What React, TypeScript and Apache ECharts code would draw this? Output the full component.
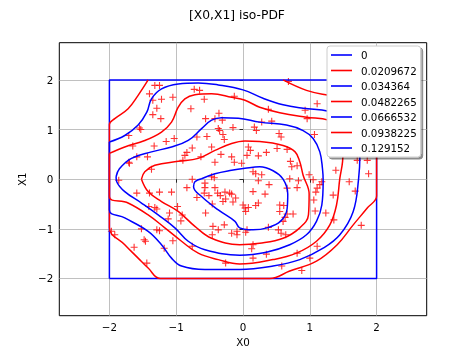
import React, { useEffect, useRef } from "react";
import * as echarts from "echarts";

const levelNames = ["0", "0.0209672", "0.034364", "0.0482265", "0.0666532", "0.0938225", "0.129152"];
const levelColors = ["#0000ff", "#ff0000", "#0000ff", "#ff0000", "#0000ff", "#ff0000", "#0000ff"];

const level0 = [[-2, -2], [-2, 2], [2, 2], [2, -2], [-2, -2]];
const level1 = [
  [0.6, 2], [0.95, 1.79], [1.28, 1.69], [1.6, 1.62], [1.85, 1.57], [2, 1.5], [2, 0.6], [2, -0.34],
  [1.86, -0.58], [1.65, -0.92], [1.41, -1.32], [1.1, -1.65], [0.7, -1.85], [0.4, -2], [-0.4, -2],
  [-1.24, -2], [-1.42, -1.79], [-1.57, -1.59], [-1.77, -1.32], [-2, -0.98], [-2, 0], [-2, 1.1],
  [-1.92, 1.22], [-1.72, 1.42], [-1.57, 1.69], [-1.42, 2],
];
const level2 = [
  [-2, 0.75], [-1.77, 0.88], [-1.57, 1.09], [-1.44, 1.35], [-1.37, 1.62], [-1.22, 1.82], [-0.97, 1.92],
  [-0.67, 1.94], [-0.37, 1.9], [0.0, 1.8], [0.3, 1.63], [0.6, 1.5], [0.9, 1.43], [1.28, 1.37],
  [1.55, 1.25], [1.7, 0.95], [1.75, 0.5], [1.73, 0], [1.65, -0.65], [1.45, -1.12], [1.2, -1.39],
  [0.85, -1.62], [0.45, -1.75], [-0.05, -1.82], [-0.57, -1.82], [-0.92, -1.75], [-1.07, -1.59],
  [-1.22, -1.32], [-1.42, -1.05], [-1.77, -0.78], [-2, -0.62], [-2, 0.75],
];
const level3 = [
  [-2, 0.52], [-1.77, 0.65], [-1.47, 0.78], [-1.22, 0.95], [-1.07, 1.15], [-0.97, 1.45], [-0.87, 1.62],
  [-0.72, 1.7], [-0.47, 1.72], [-0.17, 1.65], [0.03, 1.59], [0.25, 1.45], [0.55, 1.34], [0.95, 1.25],
  [1.28, 1.19], [1.42, 1.05], [1.5, 0.7], [1.49, 0.35], [1.45, 0.02], [1.4, -0.52], [1.3, -0.92],
  [1.1, -1.25], [0.8, -1.49], [0.45, -1.62], [-0.05, -1.71], [-0.37, -1.62], [-0.67, -1.49],
  [-0.92, -1.25], [-1.17, -0.98], [-1.42, -0.72], [-1.72, -0.48], [-2, -0.35], [-2, 0.52],
];
const level4 = [
  [-1.9, 0.05], [-1.85, 0.21], [-1.67, 0.42], [-1.37, 0.55], [-1.07, 0.65], [-0.82, 0.78], [-0.62, 1.02],
  [-0.47, 1.19], [-0.32, 1.24], [-0.07, 1.23], [0.25, 1.15], [0.65, 1.09], [0.9, 0.98], [1.05, 0.82],
  [1.15, 0.55], [1.19, 0.21], [1.2, -0.04], [1.18, -0.52], [1.1, -0.85], [0.95, -1.12], [0.7, -1.32],
  [0.35, -1.47], [-0.05, -1.53], [-0.57, -1.42], [-0.82, -1.25], [-1.02, -0.98], [-1.27, -0.72],
  [-1.52, -0.48], [-1.77, -0.25], [-1.89, -0.05], [-1.9, 0.05],
];
const level5 = [
  [-1.52, 0], [-1.47, 0.15], [-1.32, 0.28], [-0.97, 0.36], [-0.67, 0.42], [-0.42, 0.58], [-0.17, 0.72],
  [0.03, 0.77], [0.25, 0.76], [0.6, 0.68], [0.78, 0.55], [0.85, 0.35], [0.9, 0.08], [0.99, -0.3],
  [0.98, -0.72], [0.85, -0.98], [0.6, -1.19], [0.25, -1.29], [-0.05, -1.32], [-0.47, -1.19],
  [-0.72, -0.95], [-0.97, -0.65], [-1.22, -0.45], [-1.42, -0.25], [-1.52, 0],
];
const level6 = [
  [-0.62, 0.01], [-0.42, 0.11], [-0.17, 0.18], [0.03, 0.22], [0.25, 0.25], [0.45, 0.17], [0.6, 0.0],
  [0.67, -0.3], [0.66, -0.6], [0.56, -0.85], [0.36, -0.98], [0.15, -1.02], [-0.05, -0.98],
  [-0.12, -0.85], [-0.37, -0.62], [-0.62, -0.35], [-0.74, -0.15], [-0.72, -0.05], [-0.62, 0.01],
];
const levelData = [level0, level1, level2, level3, level4, level5, level6];

const cloud = [
  [-1.32, 1.89], [-1.25, 1.89], [-1.4, 1.72], [-1.35, 1.59], [-1.22, 1.61], [-1.05, 1.65], [-1.29, 1.43],
  [-1.35, 1.3], [-1.23, 1.22], [-0.73, 1.81], [-0.65, 1.79], [-0.58, 1.61], [-0.78, 1.42], [-0.56, 1.22],
  [-0.36, 1.33], [-0.42, 1.22], [-0.31, 1.19], [-0.15, 1.04], [-0.37, 1.02], [-0.35, 0.98], [-0.3, 0.9],
  [-0.28, 0.8], [-0.13, 1.67], [-1.55, 1.03], [-1.53, 1.0], [-1.71, 0.88], [-1.65, 0.67], [-1.33, 0.67],
  [-1.15, 0.76], [-1.03, 0.82], [-0.69, 0.85], [-0.54, 0.86], [-0.47, 0.65], [-0.76, 0.63], [-0.84, 0.54],
  [-0.87, 0.48], [-0.9, 0.38], [-0.63, 0.45], [-0.33, 0.5], [-0.17, 0.45], [-0.13, 0.34], [-0.42, 0.34],
  [-0.02, 0.32], [-1.71, 0.34], [-1.7, 0.32], [-1.59, 0.45], [-1.43, 0.45], [-1.37, 0.2], [-1.86, -0.02],
  [-0.76, 0.0], [-0.47, 0.05], [-0.43, 0.03], [0.68, 1.97], [0.38, 1.41], [0.28, 1.15], [0.43, 1.17],
  [0.93, 1.39], [1.11, 1.52], [0.96, 1.22], [0.17, 1.05], [0.2, 0.98], [0.54, 0.92], [0.57, 0.85],
  [1.07, 0.9], [0.08, 0.65], [0.11, 0.58], [0.06, 0.48], [0.35, 0.54], [0.51, 0.62], [0.66, 0.6],
  [0.23, 0.47], [0.71, 0.36], [0.73, 0.25], [0.81, 0.27], [0.15, 0.15], [0.19, 0.11], [0.28, 0.09],
  [0.7, 0.01], [0.99, 0.09], [1.39, 0.18], [1.88, 0.11], [-1.59, -0.28], [-1.4, -0.28], [-1.25, -0.26],
  [-1.07, -0.26], [-0.84, -0.17], [-0.57, -0.08], [-0.57, -0.17], [-0.58, -0.28], [-0.51, -0.33],
  [-0.69, -0.37], [-0.42, -0.17], [-0.38, -0.28], [-0.34, -0.33], [-0.27, -0.26], [-0.26, -0.4],
  [-0.3, -0.45], [-0.2, -0.28], [-0.17, -0.3], [-0.15, -0.46], [-0.11, -0.38], [-0.46, -0.5],
  [-1.41, -0.55], [-1.32, -0.57], [-1.29, -0.6], [-0.98, -0.55], [-1.1, -0.68], [-1.12, -0.8],
  [-0.91, -0.72], [-0.93, -0.84], [-0.56, -0.68], [-1.52, -1.0], [-1.97, -1.05], [-1.92, -1.12],
  [-1.29, -1.02], [-1.25, -1.04], [-1.48, -1.22], [-1.46, -1.25], [-1.05, -1.24], [-1.63, -1.37],
  [-1.18, -1.39], [-0.76, -1.35], [-1.44, -1.69], [-0.45, -0.95], [-0.37, -1.02], [-0.28, -0.92],
  [-0.46, -1.12], [-0.17, -1.09], [-0.09, -1.05], [-0.09, -1.12], [-0.26, -1.69], [0.0, -0.52],
  [0.23, -0.03], [0.39, -0.11], [0.83, -0.03], [0.81, -0.17], [0.15, -0.25], [0.33, -0.3], [0.66, -0.18],
  [0.23, -0.48], [0.19, -0.53], [0.03, -0.58], [0.08, -0.57], [0.04, -0.65], [0.55, -0.52], [0.61, -0.53],
  [0.55, -0.65], [0.66, -0.7], [0.75, -0.7], [0.6, -0.85], [0.63, -0.77], [0.53, -1.02], [0.57, -1.09],
  [0.38, -0.97], [0.06, -1.02], [0.04, -1.07], [0.64, -1.12], [0.15, -1.32], [0.13, -1.4], [0.15, -1.59],
  [0.35, -1.51], [0.58, -1.75], [0.81, -1.49], [0.88, -1.84], [1.0, -1.59], [1.11, -1.35], [1.15, -0.11],
  [1.11, -0.18], [1.09, -0.26], [1.18, -0.05], [1.35, -0.32], [1.06, -0.42], [1.08, -0.64], [1.24, -0.68],
  [1.36, -0.82], [1.59, -0.05], [1.68, -0.24], [1.77, -0.93], [1.05, -0.01], [1.71, 0.38], [1.86, 0.38],
];

const xTicks = [-2, -1, 0, 1, 2];
const yTicks = [-2, -1, 0, 1, 2];

const FONT = "DejaVu Sans";
const fmt = (v: number) => (v < 0 ? "\u2212" + Math.abs(v) : String(v));

export default function App() {
  const ref = useRef<HTMLDivElement>(null);
  useEffect(() => {
    if (!ref.current) return;
    const chart = echarts.init(ref.current, undefined, { renderer: "svg" });
    const axisCommon = (ticks: number[]) => ({
      type: "value" as const,
      min: -2.75,
      max: 2.75,
      axisLine: { show: false },
      axisTick: { show: true, customValues: ticks, length: 3.5, lineStyle: { color: "#000", width: 0.8 } },
      axisLabel: {
        customValues: ticks,
        formatter: (v: number) => fmt(v),
        fontSize: 10.3,
        fontFamily: FONT,
        color: "#000",
        margin: 6,
      },
      splitLine: { show: true, lineStyle: { color: "#b0b0b0", width: 0.8 } },
      nameTextStyle: { fontSize: 10.3, fontFamily: FONT, color: "#000" },
    });
    const lineSeries = levelNames.map((name, i) => ({
      type: "line" as const,
      name,
      data: levelData[i],
      showSymbol: false,
      symbol: "none",
      smooth: i === 0 ? false : 0.4,
      silent: true,
      z: 3,
      lineStyle: { color: levelColors[i], width: 1.5 },
      itemStyle: { color: levelColors[i] },
    }));
    chart.setOption({
      animation: false,
      title: {
        text: "[X0,X1] iso-PDF",
        left: "center",
        top: 4,
        textStyle: { fontSize: 12.3, fontWeight: "normal", fontFamily: FONT, color: "#000" },
      },
      grid: {
        left: 59.3,
        right: 47.3,
        top: 42.7,
        bottom: 39.3,
        show: true,
        borderColor: "#000",
        borderWidth: 1,
        backgroundColor: "transparent",
      },
      xAxis: { ...axisCommon(xTicks), name: "X0", nameLocation: "middle", nameGap: 20 },
      yAxis: { ...axisCommon(yTicks), name: "X1", nameLocation: "middle", nameGap: 27 },
      legend: {
        data: levelNames,
        orient: "vertical",
        left: 327,
        top: 46,
        icon: "rect",
        itemWidth: 21,
        itemHeight: 1.6,
        itemGap: 3.5,
        padding: [3, 4, 3, 4],
        selectedMode: false,
        backgroundColor: "#ffffff",
        borderColor: "#cccccc",
        borderWidth: 1,
        borderRadius: 3,
        shadowColor: "rgba(0,0,0,0.45)",
        shadowBlur: 1,
        shadowOffsetX: 2,
        shadowOffsetY: 2,
        textStyle: { fontSize: 10.3, fontFamily: FONT, color: "#000", lineHeight: 12, padding: [0, 0, 0, 4] },
      },
      series: [
        {
          type: "scatter",
          name: "cloud",
          data: cloud,
          symbol: "path://M5,0L5,10M0,5L10,5",
          symbolSize: 7,
          silent: true,
          z: 2,
          itemStyle: { color: "none", borderColor: "#ff0000", borderWidth: 1.1 },
        },
        ...lineSeries,
      ],
    });
    return () => chart.dispose();
  }, []);
  return <div ref={ref} style={{ position: "fixed", left: 0, top: 0, width: 474, height: 355 }} />;
}
